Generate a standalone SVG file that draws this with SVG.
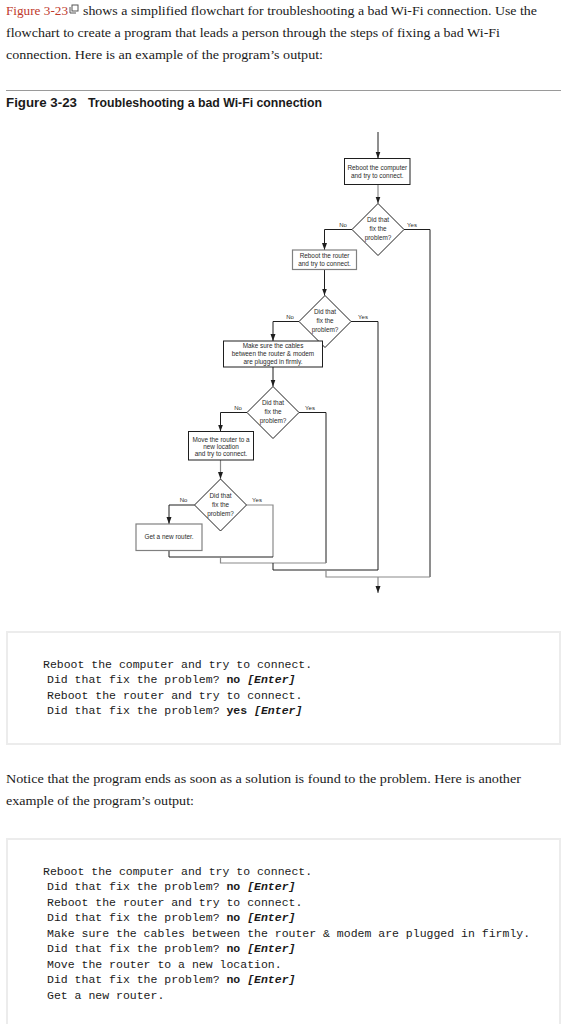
<svg xmlns="http://www.w3.org/2000/svg" width="567" height="1024" viewBox="0 0 567 1024">
<style>
.body{font-family:"Liberation Serif","DejaVu Serif",serif;font-size:13px;fill:#1a1a1a}
.red{fill:#c0392b}
.head{font-family:"Liberation Sans",Arial,sans-serif;font-size:12px;font-weight:bold;fill:#1a1a1a}
.code{font-family:"Liberation Mono","Courier New",monospace;font-size:11.5px;fill:#1a1a1a}
.b{font-weight:bold}
.bi{font-weight:bold;font-style:italic}
.codebox{fill:#fff;stroke:#ececec;stroke-width:2}
.fc{font-family:"Liberation Sans",Arial,sans-serif;font-size:6.4px;fill:#2a2a2a;text-anchor:middle}
.lbl{font-family:"Liberation Sans",Arial,sans-serif;font-size:6px;fill:#2a2a2a;text-anchor:middle}
.shape{fill:#fff;stroke:#1e1e1e;stroke-width:1}
.shape.g{stroke:#808080}
.k{fill:none;stroke:#1e1e1e;stroke-width:1}
.g{fill:none;stroke:#8a8a8a;stroke-width:1.2}
</style>
<defs>
<marker id="arr" markerUnits="userSpaceOnUse" markerWidth="8" markerHeight="6" refX="7" refY="3" orient="auto" viewBox="0 0 8 6">
<path d="M0,0.5 L7,3 L0,5.5 Z" fill="#1e1e1e"/>
</marker>
</defs>

<!-- Intro text -->
<g id="intro">
<text class="body red" x="6" y="15" textLength="62" lengthAdjust="spacingAndGlyphs">Figure 3-23</text>
<rect x="72" y="5" width="6" height="6" fill="none" stroke="#555" stroke-width="1"/>
<path d="M70,7 V13 H76" fill="none" stroke="#555" stroke-width="1"/>
<text class="body" x="83" y="15" textLength="454" lengthAdjust="spacingAndGlyphs">shows a simplified flowchart for troubleshooting a bad Wi-Fi connection. Use the</text>
<text class="body" x="6" y="37" textLength="494" lengthAdjust="spacingAndGlyphs">flowchart to create a program that leads a person through the steps of fixing a bad Wi-Fi</text>
<text class="body" x="6" y="59" textLength="317" lengthAdjust="spacingAndGlyphs">connection. Here is an example of the program’s output:</text>
<line x1="6" y1="90.5" x2="561" y2="90.5" stroke="#9a9a9a" stroke-width="1"/>
<text class="head" x="6" y="107" textLength="71" lengthAdjust="spacingAndGlyphs">Figure 3-23</text>
<text class="head" x="88" y="107" textLength="234" lengthAdjust="spacingAndGlyphs">Troubleshooting a bad Wi-Fi connection</text>
</g>

<!-- Connectors -->
<g id="connectors">
<path class="k" d="M378,132 V158.5" marker-end="url(#arr)"/>
<path class="g" d="M378,184.5 V203.5" marker-end="url(#arr)"/>
<path class="k" d="M352,229.5 H324.5 V250" marker-end="url(#arr)"/>
<path class="k" d="M404,229.5 H430 V577"/>
<path class="k" d="M324.5,269.5 V295.5" marker-end="url(#arr)"/>
<path class="k" d="M299,321.5 H273 V341" marker-end="url(#arr)"/>
<path class="k" d="M351,321.5 H378 V570"/>
<path class="k" d="M273,367 V386.5" marker-end="url(#arr)"/>
<path class="k" d="M247,412.5 H220.5 V431.5" marker-end="url(#arr)"/>
<path class="k" d="M299,412.5 H326 V563"/>
<path class="g" d="M220.5,460 V479" marker-end="url(#arr)"/>
<path class="k" d="M194.5,505 H169 V524" marker-end="url(#arr)"/>
<path class="g" d="M246.5,505 H273 V557"/>
<path class="k" d="M169,550.5 V557 H273"/>
<path class="g" d="M220.5,557 V563 H326"/>
<path class="k" d="M273,563 V570 H378"/>
<path class="g" d="M326,570 V577 H430"/>
<path class="g" d="M378,577 V593" marker-end="url(#arr)"/>
</g>

<!-- Nodes -->
<g id="n1">
<rect class="shape" x="344.5" y="158.5" width="65.5" height="26"/>
<text class="fc" x="377.25" y="169.5">Reboot the computer</text>
<text class="fc" x="377.25" y="177.5">and try to connect.</text>
</g>
<g id="d1">
<polygon class="shape" points="378,203.5 404,229.5 378,255.5 352,229.5"/>
<text class="fc" x="378" y="222">Did that</text>
<text class="fc" x="378" y="231">fix the</text>
<text class="fc" x="378" y="240">problem?</text>
<text class="lbl" x="343" y="227">No</text>
<text class="lbl" x="412" y="227">Yes</text>
</g>
<g id="n2">
<rect class="shape g" x="292.5" y="250" width="64" height="19.5"/>
<text class="fc" x="324.5" y="258">Reboot the router</text>
<text class="fc" x="324.5" y="266">and try to connect.</text>
</g>
<g id="d2">
<polygon class="shape" points="325,295.5 351,321.5 325,347.5 299,321.5"/>
<text class="fc" x="325" y="314">Did that</text>
<text class="fc" x="325" y="323">fix the</text>
<text class="fc" x="325" y="332">problem?</text>
<text class="lbl" x="290" y="319">No</text>
<text class="lbl" x="363" y="319">Yes</text>
</g>
<g id="n3">
<rect class="shape" x="223.5" y="341" width="99" height="26"/>
<text class="fc" x="273" y="347.5">Make sure the cables</text>
<text class="fc" x="273" y="355.5">between the router &amp; modem</text>
<text class="fc" x="273" y="363.5">are plugged in firmly.</text>
</g>
<g id="d3">
<polygon class="shape" points="273,386.5 299,412.5 273,438.5 247,412.5"/>
<text class="fc" x="273" y="405">Did that</text>
<text class="fc" x="273" y="414">fix the</text>
<text class="fc" x="273" y="423">problem?</text>
<text class="lbl" x="238" y="410">No</text>
<text class="lbl" x="310" y="410">Yes</text>
</g>
<g id="n4">
<rect class="shape" x="188.5" y="431.5" width="65" height="28.5"/>
<text class="fc" x="221" y="441.5">Move the router to a</text>
<text class="fc" x="221" y="448.5">new location</text>
<text class="fc" x="221" y="455.5">and try to connect.</text>
</g>
<g id="d4">
<polygon class="shape" points="220.5,479 246.5,505 220.5,531 194.5,505"/>
<text class="fc" x="220.5" y="497.5">Did that</text>
<text class="fc" x="220.5" y="506.5">fix the</text>
<text class="fc" x="220.5" y="515.5">problem?</text>
<text class="lbl" x="183.5" y="502">No</text>
<text class="lbl" x="257" y="502">Yes</text>
</g>
<g id="n5">
<rect class="shape g" x="136" y="524" width="66" height="26.5"/>
<text class="fc" x="169" y="539">Get a new router.</text>
</g>

<!-- Code example 1 -->
<g id="code1">
<rect class="codebox" x="7" y="632" width="553" height="112"/>
<text class="code" x="43" y="667.5">Reboot the computer and try to connect.</text>
<text class="code" x="47" y="683">Did that fix the problem? <tspan class="b">no</tspan> <tspan class="bi">[Enter]</tspan></text>
<text class="code" x="47" y="698.5">Reboot the router and try to connect.</text>
<text class="code" x="47" y="714">Did that fix the problem? <tspan class="b">yes</tspan> <tspan class="bi">[Enter]</tspan></text>
</g>

<g id="para2">
<text class="body" x="6" y="783" textLength="515" lengthAdjust="spacingAndGlyphs">Notice that the program ends as soon as a solution is found to the problem. Here is another</text>
<text class="body" x="6" y="805" textLength="188" lengthAdjust="spacingAndGlyphs">example of the program’s output:</text>
</g>

<!-- Code example 2 -->
<g id="code2">
<rect class="codebox" x="7" y="839" width="553" height="200"/>
<text class="code" x="43" y="874.5">Reboot the computer and try to connect.</text>
<text class="code" x="47" y="890">Did that fix the problem? <tspan class="b">no</tspan> <tspan class="bi">[Enter]</tspan></text>
<text class="code" x="47" y="905.5">Reboot the router and try to connect.</text>
<text class="code" x="47" y="921">Did that fix the problem? <tspan class="b">no</tspan> <tspan class="bi">[Enter]</tspan></text>
<text class="code" x="47" y="936.5">Make sure the cables between the router &amp; modem are plugged in firmly.</text>
<text class="code" x="47" y="952">Did that fix the problem? <tspan class="b">no</tspan> <tspan class="bi">[Enter]</tspan></text>
<text class="code" x="47" y="967.5">Move the router to a new location.</text>
<text class="code" x="47" y="983">Did that fix the problem? <tspan class="b">no</tspan> <tspan class="bi">[Enter]</tspan></text>
<text class="code" x="47" y="998.5">Get a new router.</text>
</g>
</svg>
